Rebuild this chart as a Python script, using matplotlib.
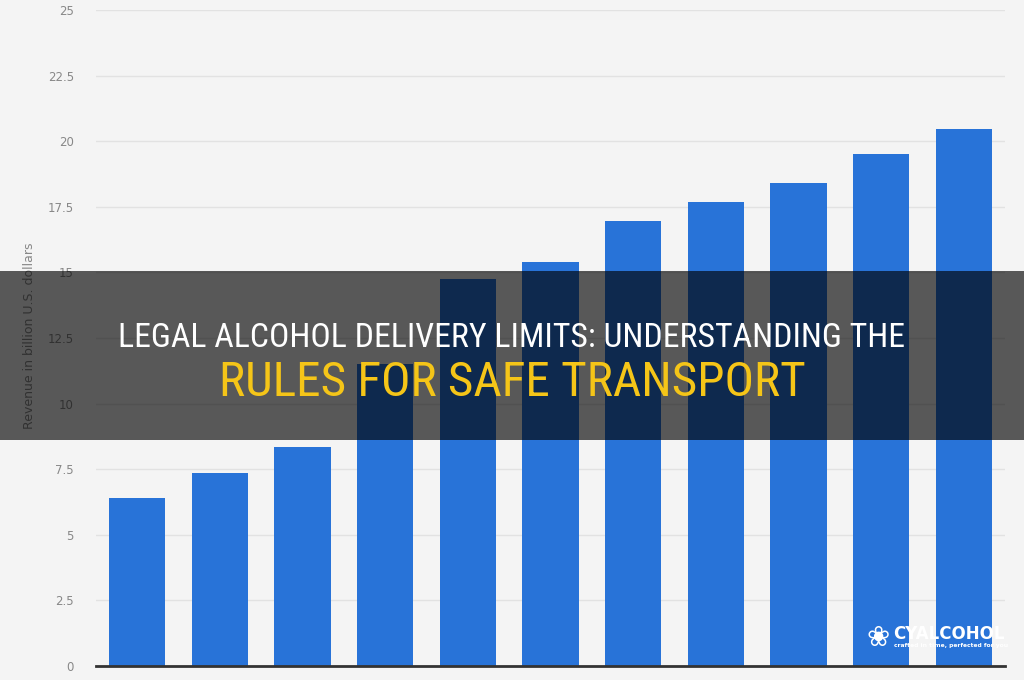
import matplotlib
matplotlib.use("Agg")
import matplotlib.pyplot as plt
import matplotlib.patches as patches
import numpy as np

# wartości (mld USD)
revenue = [6.4, 7.35, 8.35, 11.5, 14.75, 15.4, 16.95, 17.7, 18.4, 19.5, 20.45]
y_ticks = [0, 2.5, 5, 7.5, 10, 12.5, 15, 17.5, 20, 22.5, 25]
y_tick_labels = ["0", "2.5", "5", "7.5", "10", "12.5", "15", "17.5", "20", "22.5", "25"]
y_label = "Revenue in billion U.S. dollars"
title_1 = "LEGAL ALCOHOL DELIVERY LIMITS: UNDERSTANDING THE"
title_2 = "RULES FOR SAFE TRANSPORT"

bg = "#f4f4f4"
bar_color = "#2873d8"

fig = plt.figure(figsize=(10.24, 6.8), dpi=100, facecolor=bg)
ax = fig.add_axes([96 / 1024, 1 - 666 / 680, 909 / 1024, 656 / 680])
ax.set_facecolor(bg)

x = np.arange(len(revenue))
ax.bar(x, revenue, width=0.68, color=bar_color, zorder=2)

ax.set_xlim(-0.5, len(revenue) - 0.5)
ax.set_ylim(0, 25)
ax.set_yticks(y_ticks)
ax.set_yticklabels(y_tick_labels, color="#888888", fontsize=8.5)
ax.tick_params(axis="y", length=0, pad=16)
ax.set_xticks([])
ax.grid(axis="y", color="#e2e2e2", linewidth=1, zorder=0)
for side in ["top", "right", "left"]:
    ax.spines[side].set_visible(False)
ax.spines["bottom"].set_color("#333333")
ax.spines["bottom"].set_linewidth(2)
ax.spines["bottom"].set_zorder(3)

fig.text(30 / 1024, 1 - 336 / 680, y_label, rotation=90, ha="center", va="center",
         color="#888888", fontsize=9)

# --- ciemny pasek z tytułem ---
band = patches.Rectangle((0, 1 - 440 / 680), 1, 169 / 680, transform=fig.transFigure,
                         facecolor="black", alpha=0.64, zorder=10)
fig.patches.append(band)

cond = ["Roboto Condensed", "Roboto", "DejaVu Sans"]
fig.text(0.5, 1 - 338 / 680, title_1, ha="center", va="center", color="white",
         fontsize=24.3, family=cond, zorder=11)
fig.text(0.5, 1 - 383 / 680, title_2, ha="center", va="center", color="#f5c518",
         fontsize=35.5, family=cond, zorder=11)

# --- znak wodny ---
fig.text(893 / 1024, 1 - 634 / 680, "CYALCOHOL", ha="left", va="center",
         color="white", fontsize=12, fontweight="bold", zorder=11)
fig.text(894 / 1024, 1 - 646 / 680, "crafted in time, perfected for you", ha="left",
         va="center", color="white", fontsize=4.3, fontweight="bold", zorder=11)
fig.text(878 / 1024, 1 - 638 / 680, "\u2740", ha="center", va="center",
         color="white", fontsize=20, zorder=11, family=["DejaVu Sans"])

fig.savefig("out.png", dpi=100, facecolor=bg)
